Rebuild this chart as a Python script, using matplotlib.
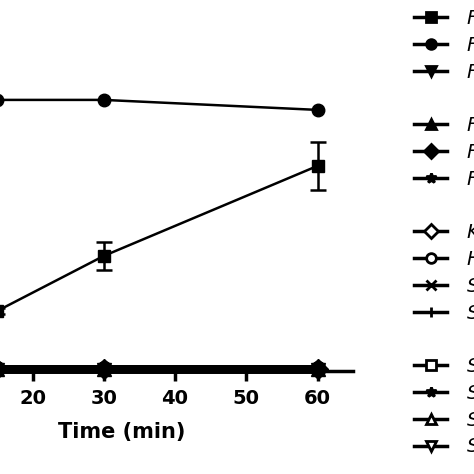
import matplotlib
matplotlib.use("Agg")
import matplotlib.pyplot as plt
from matplotlib.lines import Line2D

time = [15, 30, 60]
circle_vals = [67.8, 67.8, 65.3]
square_vals = [15.0, 28.8, 51.3]
square_err = [0.8, 3.6, 5.9]
# series lying on the baseline
base_series = {
    "o": [0.9, 0.9, 0.9],
    "v": [0.4, 0.4, 0.4],
    "^": [0.6, 0.6, 0.6],
    "D": [0.5, 0.5, 0.5],
    "*": [0.7, 0.7, 0.7],
}
xticks = [20, 30, 40, 50, 60]

legend_groups = [
    [("s", True, "F"), ("o", True, "F"), ("v", True, "F")],
    [("^", True, "F"), ("D", True, "F"), ("*", True, "F")],
    [("D", False, "K"), ("o", False, "H"), ("x", True, "S"), ("+", True, "S")],
    [("s", False, "S"), ("*", True, "S"), ("^", False, "S"), ("v", False, "S")],
]

fig = plt.figure(figsize=(4.74, 4.74), dpi=100)
ax = fig.add_axes([-0.232, 0.217, 0.977, 0.844])

for m, vals in base_series.items():
    ax.plot(time, vals, color="black", lw=5, marker=m, ms=10, clip_on=False)
ax.plot(time, circle_vals, color="black", lw=1.8, marker="o", ms=9)
ax.errorbar(time, square_vals, yerr=square_err, color="black", lw=1.8, marker="s",
            ms=9, capsize=6, capthick=1.8, elinewidth=1.8)

ax.set_xlim(0, 65)
ax.set_ylim(0, 100)
ax.set_xticks(xticks)
ax.set_xticklabels([str(t) for t in xticks], fontsize=14, fontweight="bold")
ax.tick_params(axis="x", direction="out", length=7, width=2.5, pad=6)
ax.tick_params(axis="y", labelleft=False)
ax.set_xlabel("Time (min)", fontsize=15, fontweight="bold", labelpad=10)
for s in ["top", "right"]:
    ax.spines[s].set_visible(False)
ax.spines["bottom"].set_linewidth(2.5)
ax.spines["left"].set_linewidth(2.5)

handles, labels = [], []
for gi, group in enumerate(legend_groups):
    if gi:
        handles.append(Line2D([], [], color="none"))
        labels.append("")
    for m, filled, lab in group:
        handles.append(Line2D([], [], color="black", lw=2.5, marker=m, ms=7,
                              markerfacecolor="black" if filled else "white",
                              markeredgewidth=2))
        labels.append(lab)

leg = fig.legend(handles, labels, loc="upper left", bbox_to_anchor=(414 / 474, 1 - 9 / 474),
                 frameon=False, borderpad=0, borderaxespad=0, fontsize=14,
                 handlelength=1.7, handletextpad=1.0, labelspacing=0.4)
for t in leg.get_texts():
    t.set_fontstyle("italic")

fig.savefig("out.png", dpi=100)
